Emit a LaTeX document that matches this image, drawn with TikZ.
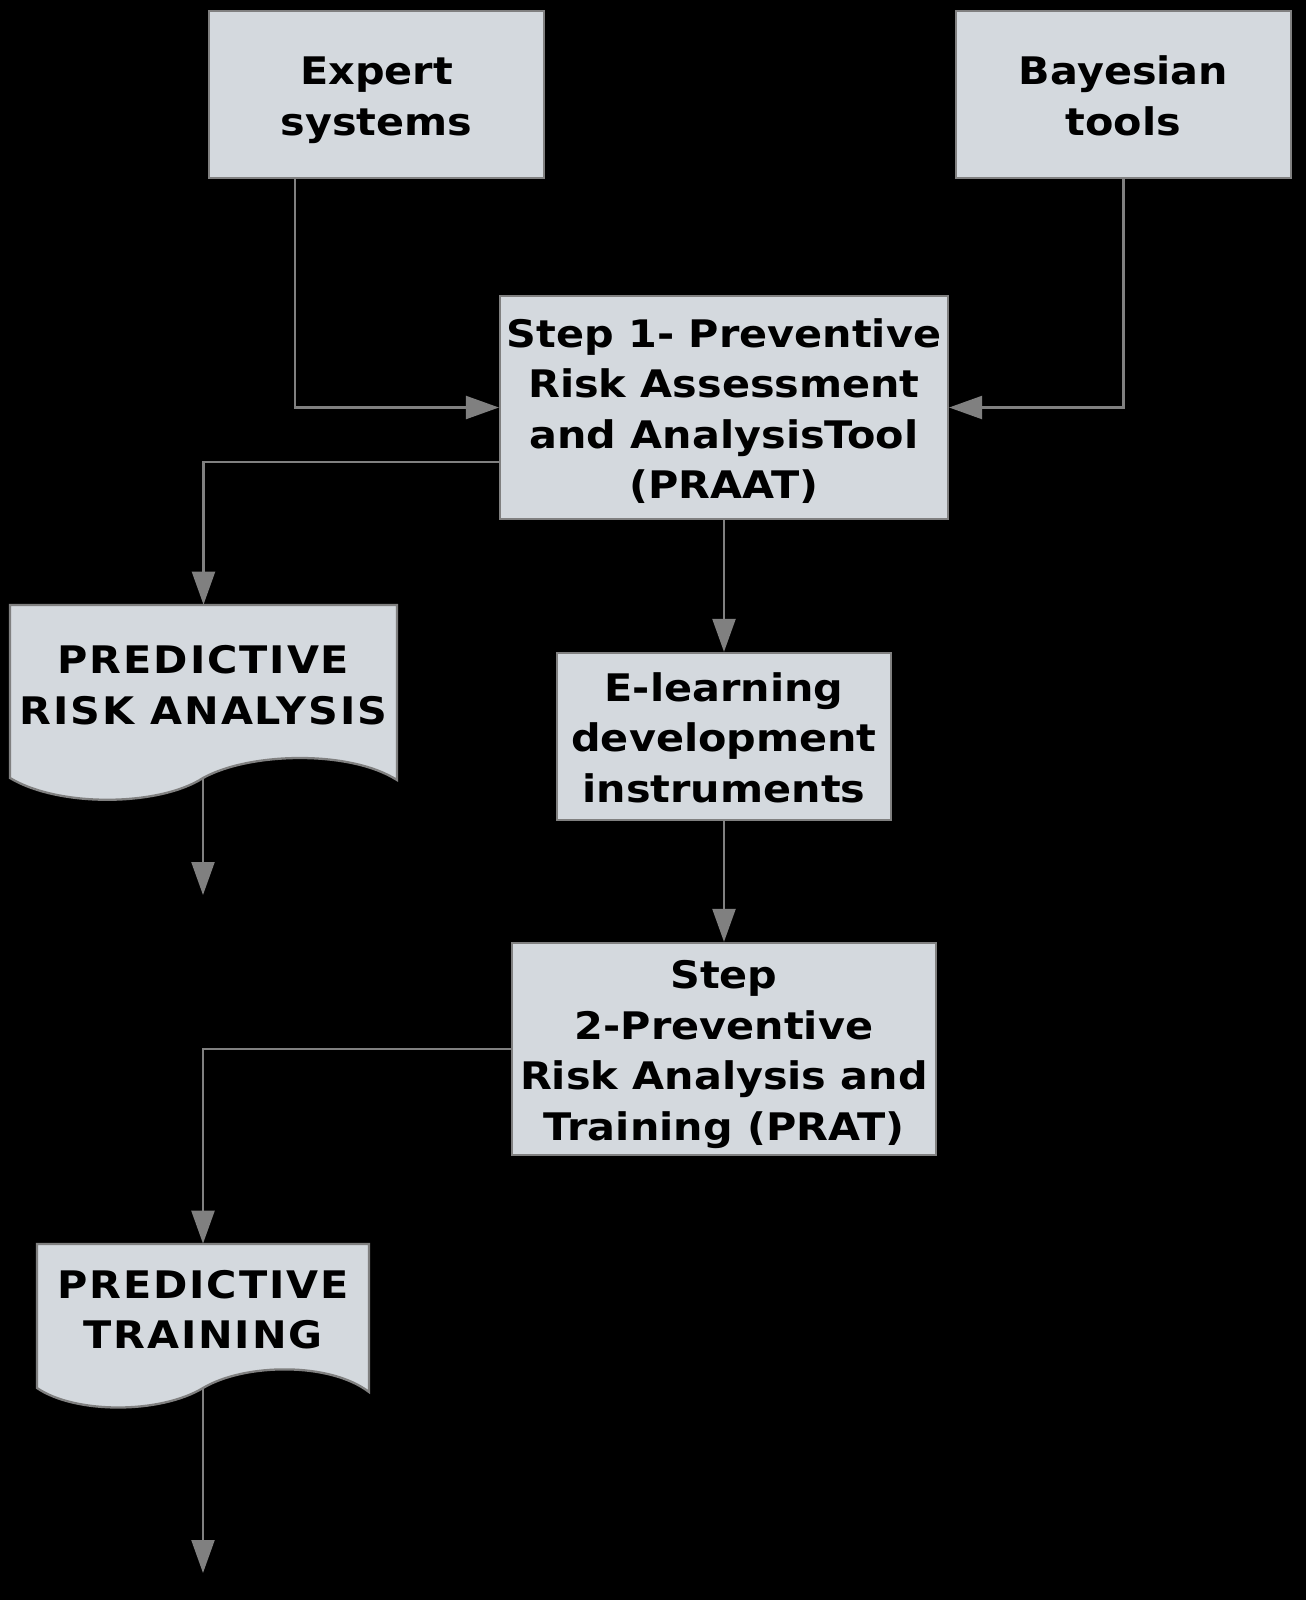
\documentclass[tikz,border=0pt]{standalone}
\usepackage{fontspec}
\setmainfont{DejaVu Sans}[FakeStretch=1.09]
\usetikzlibrary{arrows.meta,calc}
\definecolor{boxfill}{HTML}{D4D9DE}
\definecolor{edgegray}{HTML}{808080}
\newcommand{\linetop}{\rule{0pt}{23.6pt}}
\newcommand{\linebot}{\rule[-6pt]{0pt}{6pt}}

\begin{document}
\begin{tikzpicture}[x=0.02cm,y=-0.02cm,>={Triangle[length=0.66cm,width=0.46cm]},
    font=\fontsize{21.6}{28.8}\selectfont\bfseries,
    box/.style={draw=edgegray,fill=boxfill,line width=1.3pt,align=center,inner sep=0pt},
    doc/.style={draw=edgegray,fill=boxfill,line width=1.3pt},
    label/.style={align=center,inner sep=0pt,font=\fontsize{21.6}{28.8}\selectfont\bfseries\addfontfeature{LetterSpace=5}},
    flow/.style={->,draw=edgegray,line width=1.3pt}]

    % Background and page size
    \fill [black] (0,0) rectangle (1306,1600);
    \useasboundingbox (0,0) rectangle (1306,1600);

    % Input tools
    \node [box,minimum width=6.7cm,minimum height=3.34cm] (expert) at (376.5,94.5) {\linetop Expert\\systems\linebot};
    \node [box,minimum width=6.7cm,minimum height=3.34cm] (bayes) at (1123.5,94.5) {\linetop Bayesian\\tools\linebot};

    % Step 1 (PRAAT)
    \node [box,minimum width=8.96cm,minimum height=4.46cm] (step1) at (724,407.5)
        {\linetop Step 1- Preventive\\Risk Assessment\\and AnalysisTool\\(PRAAT)\linebot};

    % E-learning
    \node [box,minimum width=6.68cm,minimum height=3.34cm] (elearn) at (724,736.5)
        {\linetop E-learning\\development\\instruments\linebot};

    % Step 2 (PRAT)
    \node [box,minimum width=8.48cm,minimum height=4.24cm] (step2) at (724,1049)
        {\linetop Step\\2-Preventive\\Risk Analysis and\\Training (PRAT)\linebot};

    % Document shape: predictive risk analysis
    \path [doc] (10,605) -- (397,605) -- (397,780)
        .. controls (350,750) and (250,752) .. (203,778)
        .. controls (160,806) and (60,808) .. (10,778) -- cycle;
    \node [label,minimum width=7.74cm,minimum height=3.14cm] (pra) at (203.5,683.5) {\linetop PREDICTIVE\\RISK ANALYSIS\linebot};

    % Document shape: predictive training
    \path [doc] (37,1244) -- (369,1244) -- (369,1392)
        .. controls (330,1362) and (245,1363) .. (203,1388)
        .. controls (160,1414) and (75,1414) .. (37,1388) -- cycle;
    \node [label,minimum width=6.64cm,minimum height=2.56cm] (prt) at (203,1308) {\linetop PREDICTIVE\\TRAINING\linebot};

    % Free ends of the outgoing arrows
    \coordinate (praout) at (203,779);
    \coordinate (praend) at (203,895);
    \coordinate (prtout) at (203,1389);
    \coordinate (prtend) at (203,1573);

    % Connectors
    \draw [flow] ($(expert.south)+(-81.5,0)$) |- (step1.west);
    \draw [flow] (bayes.south) |- (step1.east);
    \draw [flow] ($(step1.west)+(0,54.5)$) -| (pra.north);
    \draw [flow] (step1.south) -- (elearn.north);
    \draw [flow] (elearn.south) -- (step2.north);
    \draw [flow] (step2.west) -| (prt.north);
    \draw [flow] (praout) -- (praend);
    \draw [flow] (prtout) -- (prtend);

\end{tikzpicture}
\end{document}
